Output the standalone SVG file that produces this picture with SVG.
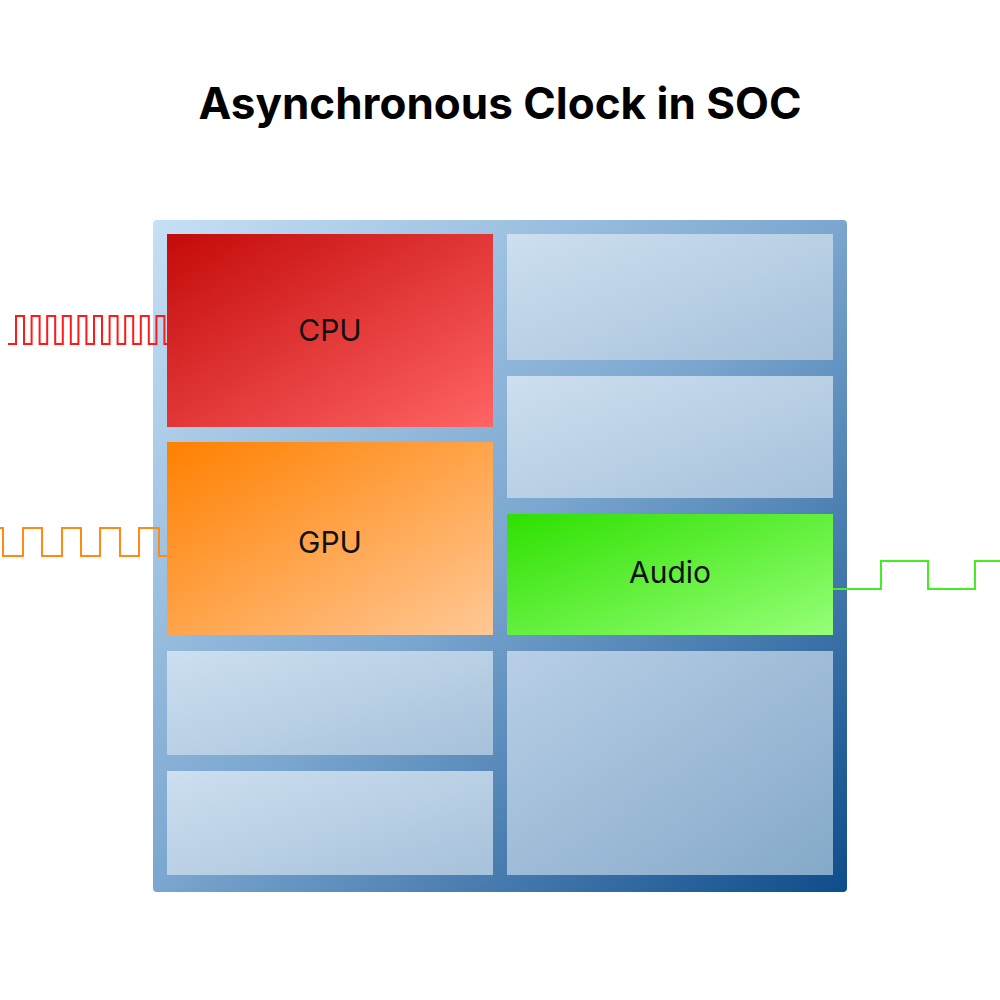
<svg xmlns="http://www.w3.org/2000/svg" width="1000" height="1000" viewBox="0 0 1000 1000">
<defs>
<linearGradient id="chip" x1="0" y1="0" x2="1" y2="1"><stop offset="0" stop-color="#c6e0f5"/><stop offset="0.5" stop-color="#7aa6cf"/><stop offset="1" stop-color="#0e4c8a"/></linearGradient>
<linearGradient id="blk" x1="0" y1="0" x2="1" y2="1"><stop offset="0" stop-color="#cddff0"/><stop offset="1" stop-color="#a6c1da"/></linearGradient>
<linearGradient id="blk2" x1="0" y1="0" x2="1" y2="1"><stop offset="0" stop-color="#b8cfe6"/><stop offset="1" stop-color="#85a9c9"/></linearGradient>
<linearGradient id="cpu" x1="0" y1="0" x2="1" y2="1"><stop offset="0" stop-color="#c40a0a"/><stop offset="1" stop-color="#ff6464"/></linearGradient>
<linearGradient id="gpu" x1="0" y1="0" x2="1" y2="1"><stop offset="0" stop-color="#ff8000"/><stop offset="1" stop-color="#ffc896"/></linearGradient>
<linearGradient id="aud" x1="0" y1="0" x2="1" y2="1"><stop offset="0" stop-color="#2ee000"/><stop offset="1" stop-color="#96ff78"/></linearGradient>
</defs>
<style>
.lbl{font-family:Inter,"Liberation Sans",sans-serif;font-size:30px;fill:#111;text-anchor:middle;dominant-baseline:central}
.w{fill:none;stroke-width:2}
</style>
<rect width="1000" height="1000" fill="#fff"/>
<text x="500" y="103" font-family="Inter,'Liberation Sans',sans-serif" font-weight="bold" font-size="44" text-anchor="middle" dominant-baseline="central" fill="#000">Asynchronous Clock in SOC</text>
<g id="chip-body"><rect x="153" y="220" width="694" height="672" rx="4" fill="url(#chip)"/></g>
<g id="cpu-node"><rect x="167" y="234" width="326" height="193" fill="url(#cpu)"/><text class="lbl" x="330" y="330">CPU</text></g>
<g id="gpu-node"><rect x="167" y="442" width="326" height="193" fill="url(#gpu)"/><text class="lbl" x="330" y="542">GPU</text></g>
<g id="blk-a"><rect x="167" y="651" width="326" height="104" fill="url(#blk)"/></g>
<g id="blk-b"><rect x="167" y="771" width="326" height="104" fill="url(#blk)"/></g>
<g id="blk-c"><rect x="507" y="234" width="326" height="126" fill="url(#blk)"/></g>
<g id="blk-d"><rect x="507" y="376" width="326" height="122" fill="url(#blk)"/></g>
<g id="audio-node"><rect x="507" y="514" width="326" height="121" fill="url(#aud)"/><text class="lbl" x="670" y="572">Audio</text></g>
<g id="blk-e"><rect x="507" y="651" width="326" height="224" fill="url(#blk2)"/></g>
<g id="connectors">
<path class="w" stroke="#ff1a1a" d="M8 344H16V316H24V344H31.6V316H39.6V344H47.2V316H55.2V344H62.8V316H70.8V344H78.4V316H86.4V344H94V316H102V344H109.6V316H117.6V344H125.2V316H133.2V344H140.8V316H148.8V344H156.4V316H164.4V344H167"/>
<path class="w" stroke="#ff8a14" d="M0 528H3V556H23V528H42V556H62V528H81V556H100V528H120V556H139V528H159V556H167"/>
<path class="w" stroke="#44ee22" d="M833 589H881V561H928V589H975V561H1000"/>
</g>
</svg>
